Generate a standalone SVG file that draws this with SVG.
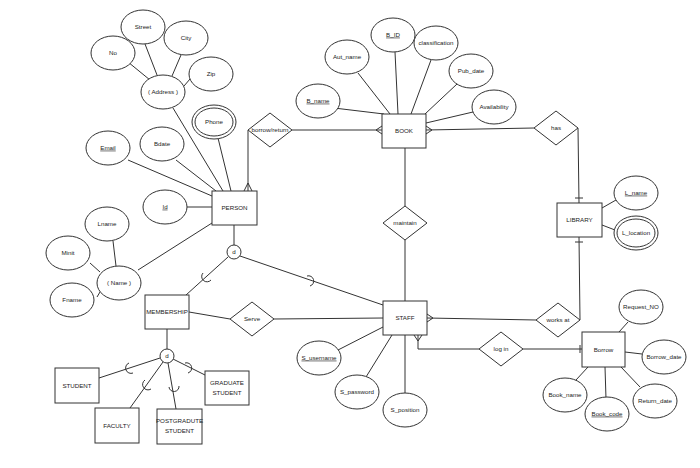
<svg xmlns="http://www.w3.org/2000/svg" width="700" height="468" viewBox="0 0 700 468">
<style>
.s{fill:#fff;stroke:#333;stroke-width:1}
.l{fill:none;stroke:#333;stroke-width:1}
text{font-family:"Liberation Sans",Arial,sans-serif;font-size:6.2px;fill:#222;text-anchor:middle;dominant-baseline:middle}
.u{text-decoration:underline}
</style>
<rect width="700" height="468" fill="#fff"/>
<g id="connectors" class="l">
<line x1="128" y1="62" x2="150" y2="80"/><line x1="145" y1="44" x2="157" y2="75"/><line x1="181" y1="55" x2="172" y2="76"/><line x1="190" y1="79" x2="184" y2="86"/>
<line x1="173" y1="108" x2="223" y2="191"/><line x1="218" y1="138" x2="231" y2="191"/><line x1="176" y1="160" x2="216" y2="191"/><line x1="128" y1="160" x2="212" y2="196"/><line x1="187" y1="207" x2="212" y2="207"/>
<polyline points="248,191 248,130"/><path d="M244,191 L248,183 L252,191"/>
<line x1="292" y1="130" x2="382" y2="130"/><path d="M382,126 L376,130 L382,134"/>
<line x1="334" y1="108" x2="384" y2="114"/><line x1="358" y1="73" x2="390" y2="114"/><line x1="395" y1="52" x2="398" y2="114"/><line x1="431" y1="60" x2="411" y2="114"/><line x1="457" y1="84" x2="425" y2="114"/><line x1="473" y1="112" x2="426" y2="123"/>
<line x1="426" y1="130" x2="534" y2="128"/><path d="M426,126 L432,130 L426,134"/>
<polyline points="578,128 579,203"/><line x1="575" y1="198" x2="583" y2="198"/>
<line x1="602" y1="208" x2="616" y2="200"/><line x1="602" y1="225" x2="615" y2="230"/>
<line x1="405" y1="148" x2="405" y2="206"/><line x1="405" y1="240" x2="405" y2="301"/>
<line x1="579" y1="237" x2="580" y2="320"/><line x1="575" y1="242" x2="583" y2="242"/>
<line x1="427" y1="318" x2="536" y2="320"/><path d="M427,314 L433,318 L427,322"/>
<polyline points="418,335 418,349 479,349"/><path d="M414,335 L418,341 L422,335"/>
<line x1="523" y1="349" x2="582" y2="349"/><line x1="580" y1="345" x2="580" y2="353"/>
<line x1="619" y1="332" x2="628" y2="322"/><line x1="625" y1="352" x2="642" y2="354"/><line x1="621" y1="367" x2="640" y2="387"/><line x1="605" y1="367" x2="606" y2="399"/><line x1="588" y1="367" x2="576" y2="380"/>
<line x1="383" y1="327" x2="338" y2="350"/><line x1="392" y1="335" x2="366" y2="377"/><line x1="405" y1="335" x2="405" y2="393"/>
<line x1="212" y1="223" x2="138" y2="270"/><line x1="113" y1="241" x2="116" y2="266"/><line x1="90" y1="263" x2="100" y2="272"/><line x1="97" y1="297" x2="100" y2="292"/>
<line x1="234" y1="225" x2="234" y2="245"/>
<line x1="228" y1="257" x2="186" y2="295"/><path d="M203,273 A5,5 0 0 0 211,280"/>
<line x1="240" y1="256" x2="383" y2="305"/><path d="M307,276 A5,5 0 0 1 310,286"/>
<line x1="189" y1="312" x2="230" y2="319"/><line x1="274" y1="319" x2="383" y2="318"/>
<line x1="167" y1="329" x2="167" y2="349"/>
<line x1="160" y1="358" x2="99" y2="378"/><path d="M129,363 A5,5 0 0 0 133,373"/>
<line x1="163" y1="362" x2="130" y2="408"/><path d="M145,380 A5,5 0 0 0 151,389"/>
<line x1="168" y1="363" x2="176" y2="409"/><path d="M169,387 A5,5 0 0 0 179,386"/>
<line x1="173" y1="359" x2="205" y2="375"/><path d="M185,363 A5,5 0 0 1 188,373"/>
</g>
<g id="person"><rect class="s" x="212" y="191" width="45" height="34"/><text x="234.5" y="208">PERSON</text></g>
<g id="address"><ellipse class="s" cx="163" cy="92" rx="22" ry="17"/><text x="163" y="92">( Address )</text></g>
<g id="no"><ellipse class="s" cx="113" cy="53" rx="22" ry="17"/><text x="113" y="53">No</text></g>
<g id="street"><ellipse class="s" cx="143" cy="27" rx="22" ry="17"/><text x="143" y="27">Street</text></g>
<g id="city"><ellipse class="s" cx="186" cy="38" rx="22" ry="17"/><text x="186" y="38">City</text></g>
<g id="zip"><ellipse class="s" cx="211" cy="74" rx="22" ry="17"/><text x="211" y="74">Zip</text></g>
<g id="phone"><ellipse class="s" cx="214" cy="122" rx="22" ry="17"/><ellipse class="s" cx="214" cy="122" rx="19" ry="14"/><text x="214" y="122">Phone</text></g>
<g id="bdate"><ellipse class="s" cx="162" cy="144" rx="22" ry="17"/><text x="162" y="144">Bdate</text></g>
<g id="email"><ellipse class="s" cx="108" cy="148" rx="22" ry="17"/><text x="108" y="148" class="u">Email</text></g>
<g id="id"><ellipse class="s" cx="165" cy="207" rx="22" ry="17"/><text x="165" y="207" class="u">Id</text></g>
<g id="borrowreturn"><polygon class="s" points="248,130 270,113 292,130 270,147"/><text x="270" y="130">borrow/return</text></g>
<g id="book"><rect class="s" x="382" y="114" width="44" height="34"/><text x="404" y="131">BOOK</text></g>
<g id="bname"><ellipse class="s" cx="318" cy="101" rx="22" ry="17"/><text x="318" y="101" class="u">B_name</text></g>
<g id="autname"><ellipse class="s" cx="347" cy="57" rx="22" ry="17"/><text x="347" y="57">Aut_name</text></g>
<g id="bid"><ellipse class="s" cx="393" cy="35" rx="22" ry="17"/><text x="393" y="35" class="u">B_ID</text></g>
<g id="classification"><ellipse class="s" cx="436" cy="43" rx="22" ry="17"/><text x="436" y="43">classification</text></g>
<g id="pubdate"><ellipse class="s" cx="471" cy="71" rx="22" ry="17"/><text x="471" y="71">Pub_date</text></g>
<g id="availability"><ellipse class="s" cx="494" cy="107" rx="22" ry="17"/><text x="494" y="107">Availability</text></g>
<g id="has"><polygon class="s" points="534,128 556,111 578,128 556,145"/><text x="556" y="128">has</text></g>
<g id="library"><rect class="s" x="557" y="203" width="45" height="34"/><text x="579.5" y="220">LIBRARY</text></g>
<g id="lname"><ellipse class="s" cx="636" cy="193" rx="22" ry="17"/><text x="636" y="193" class="u">L_name</text></g>
<g id="llocation"><ellipse class="s" cx="636" cy="233" rx="22" ry="17"/><ellipse class="s" cx="636" cy="233" rx="19" ry="14"/><text x="636" y="233">L_location</text></g>
<g id="maintain"><polygon class="s" points="383,223 405,206 427,223 405,240"/><text x="405" y="223">maintain</text></g>
<g id="staff"><rect class="s" x="383" y="301" width="44" height="34"/><text x="405" y="318">STAFF</text></g>
<g id="worksat"><polygon class="s" points="536,320 558,303 580,320 558,337"/><text x="558" y="320">works at</text></g>
<g id="login"><polygon class="s" points="479,349 501,332 523,349 501,366"/><text x="501" y="349">log in</text></g>
<g id="borrow"><rect class="s" x="582" y="332" width="43" height="35"/><text x="603.5" y="350">Borrow</text></g>
<g id="requestno"><ellipse class="s" cx="641" cy="307" rx="22" ry="17"/><text x="641" y="307">Request_NO</text></g>
<g id="borrowdate"><ellipse class="s" cx="664" cy="357" rx="22" ry="17"/><text x="664" y="357">Borrow_date</text></g>
<g id="returndate"><ellipse class="s" cx="655" cy="401" rx="22" ry="17"/><text x="655" y="401">Return_date</text></g>
<g id="bookcode"><ellipse class="s" cx="607" cy="414" rx="22" ry="17"/><text x="607" y="414" class="u">Book_code</text></g>
<g id="bookname"><ellipse class="s" cx="565" cy="395" rx="22" ry="17"/><text x="565" y="395">Book_name</text></g>
<g id="susername"><ellipse class="s" cx="319" cy="358" rx="22" ry="17"/><text x="319" y="358" class="u">S_username</text></g>
<g id="spassword"><ellipse class="s" cx="357" cy="392" rx="22" ry="17"/><text x="357" y="392">S_password</text></g>
<g id="sposition"><ellipse class="s" cx="405" cy="410" rx="22" ry="17"/><text x="405" y="410">S_position</text></g>
<g id="name"><ellipse class="s" cx="119" cy="283" rx="22" ry="17"/><text x="119" y="283">( Name )</text></g>
<g id="lname2"><ellipse class="s" cx="107" cy="224" rx="22" ry="17"/><text x="107" y="224">Lname</text></g>
<g id="mint"><ellipse class="s" cx="68" cy="253" rx="22" ry="17"/><text x="68" y="253">Minit</text></g>
<g id="fname"><ellipse class="s" cx="72" cy="300" rx="22" ry="17"/><text x="72" y="300">Fname</text></g>
<g id="d1"><circle class="s" cx="234" cy="252" r="7"/><text x="234" y="252">d</text></g>
<g id="membership"><rect class="s" x="145" y="295" width="44" height="34"/><text x="167" y="312">MEMBERSHIP</text></g>
<g id="serve"><polygon class="s" points="230,319 252,302 274,319 252,336"/><text x="252" y="319">Serve</text></g>
<g id="d2"><circle class="s" cx="167" cy="356" r="7"/><text x="167" y="356">d</text></g>
<g id="student"><rect class="s" x="55" y="368" width="44" height="35"/><text x="77" y="386">STUDENT</text></g>
<g id="faculty"><rect class="s" x="95" y="408" width="44" height="35"/><text x="117" y="426">FACULTY</text></g>
<g id="postgrad"><rect class="s" x="157" y="409" width="45" height="35"/><text x="179.5" y="421">POSTGRADUTE</text><text x="179.5" y="431">STUDENT</text></g>
<g id="graduate"><rect class="s" x="205" y="371" width="44" height="34"/><text x="227" y="383">GRADUATE</text><text x="227" y="393">STUDENT</text></g>
</svg>
